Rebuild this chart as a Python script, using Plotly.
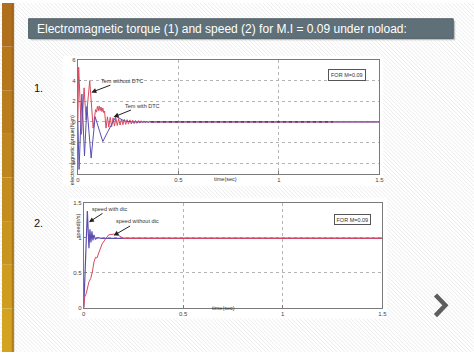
import plotly.graph_objects as go

W, H = 474, 355

# ---------------- data ----------------
# Chart 1: electromagnetic torque
tq_without_t = [0, 0.004, 0.018, 0.031, 0.041, 0.059, 0.076, 0.088, 0.093, 0.097, 0.102, 0.106,
                0.111, 0.115, 0.120, 0.124, 0.129, 0.133, 0.140,
                0.147, 0.154, 0.161, 0.168, 0.175, 0.182, 0.189, 0.196, 0.203, 0.210, 0.217,
                0.224, 0.231, 0.238, 0.245, 0.252, 0.259, 0.266, 0.273, 0.280, 0.287, 0.294,
                0.301, 0.308, 0.315, 0.322, 0.329, 0.336, 0.343, 0.350, 0.357, 0.364, 1.5]
tq_without_v = [0, 5.3, -1.2, 3.3, 0.2, 4.0, -0.6, 1.2, 0.95, 1.5, 1.1, 1.55,
                1.1, 1.45, 1.0, 1.35, 0.9, 1.05, -0.6,
                0.5, -0.5, 0.45, -0.45, 0.4, -0.4, 0.36, -0.35, 0.32, -0.3, 0.28,
                -0.27, 0.25, -0.24, 0.22, -0.21, 0.2, -0.19, 0.17, -0.16, 0.15, -0.14,
                0.13, -0.12, 0.11, -0.1, 0.1, -0.09, 0.08, -0.08, 0.06, 0.0, 0.0]
tq_with_t = [0, 0.006, 0.020, 0.033, 0.045, 0.066, 0.086, 0.124, 0.150, 0.190, 0.230, 0.270, 1.5]
tq_with_v = [0, -4.6, 2.7, -3.3, 1.5, -3.5, 0.5, -1.9, -0.9, 0.55, 0.1, 0.0, 0.0]
tq_ripple_t = [0.364, 1.27]
tq_ripple_v = [0.0, 0.0]

# Chart 2: speed
sp_without_t = [0, 0.004, 0.012, 0.020, 0.026, 0.035, 0.043, 0.051, 0.059, 0.066, 0.072, 0.081,
                0.092, 0.109, 0.125, 0.150, 0.175, 0.200, 0.250, 1.5]
sp_without_v = [0, 0.15, 0.2, 0.3, 0.37, 0.42, 0.51, 0.65, 0.72, 0.71, 0.76, 0.84,
                0.91, 0.98, 1.04, 1.05, 1.03, 0.99, 0.99, 0.99]
sp_with_t = [0, 0.008, 0.018, 0.026, 0.031, 0.036, 0.041, 0.046, 0.051, 0.058, 0.070, 0.090, 1.5]
sp_with_v = [0, 0.6, 1.38, 0.85, 1.12, 0.93, 1.09, 0.96, 1.04, 0.98, 1.0, 0.99, 0.99]
sp_ripple_t = [0.2, 1.5]
sp_ripple_v = [0.99, 0.99]

x_ticks = [0, 0.5, 1, 1.5]
x_ticktext = ["0", "0.5", "1", "1.5"]
tq_ticks = [-4, -2, 0, 2, 4, 6]
sp_ticks = [0, 0.5, 1, 1.5]
sp_ticktext = ["0", "0.5", "1", "1.5"]

title_text = "Electromagnetic torque (1) and speed (2) for M.I = 0.09 under noload:"

RED = "#d9485f"
BLUE = "#5a4fb0"


def px(x):
    return x / W


def py(y):
    return 1 - y / H


fig = go.Figure()

fig.add_trace(go.Scatter(x=tq_without_t, y=tq_without_v, mode="lines",
                         line=dict(color=RED, width=1), xaxis="x", yaxis="y"))
fig.add_trace(go.Scatter(x=tq_with_t, y=tq_with_v, mode="lines",
                         line=dict(color=BLUE, width=1), xaxis="x", yaxis="y"))
fig.add_trace(go.Scatter(x=tq_ripple_t, y=tq_ripple_v, mode="lines",
                         line=dict(color="#7a2040", width=1.2, dash="dot"), xaxis="x", yaxis="y"))

fig.add_trace(go.Scatter(x=sp_with_t, y=sp_with_v, mode="lines",
                         line=dict(color=BLUE, width=1.2), xaxis="x2", yaxis="y2"))
fig.add_trace(go.Scatter(x=sp_without_t, y=sp_without_v, mode="lines",
                         line=dict(color=RED, width=1), xaxis="x2", yaxis="y2"))
fig.add_trace(go.Scatter(x=sp_ripple_t, y=sp_ripple_v, mode="lines",
                         line=dict(color=RED, width=1.2, dash="dot"), xaxis="x2", yaxis="y2"))

axis_common = dict(showgrid=True, gridcolor="#b5b5b5", griddash="dot", gridwidth=1,
                   showline=True, mirror=True, linecolor="#7a7a7a", linewidth=1,
                   ticks="inside", ticklen=3, tickcolor="#7a7a7a", zeroline=False,
                   tickfont=dict(size=6, color="#444", family="Liberation Sans"))

shapes = []
# background hatch
step = 4
for k in range(-H, W + H, step):
    shapes.append(dict(type="line", xref="paper", yref="paper",
                       x0=px(k), y0=py(0), x1=px(k + H), y1=py(H),
                       line=dict(color="#ececec", width=1), layer="below"))
# left gold bar (gradient by bands)
bar_cols = ["#b06f1c", "#b5761c", "#ba7d1d", "#bf851e", "#c58d1f", "#ca951f", "#cf9c20", "#d3a221"]
nb = len(bar_cols)
for i, c in enumerate(bar_cols):
    shapes.append(dict(type="rect", xref="paper", yref="paper",
                       x0=px(0), x1=px(12), y0=py(H * (i + 1) / nb), y1=py(H * i / nb),
                       line=dict(width=0), fillcolor=c, layer="below"))
shapes.append(dict(type="rect", xref="paper", yref="paper", x0=px(10), x1=px(12.5),
                   y0=py(H), y1=py(0), line=dict(width=0), fillcolor="#8a5a18",
                   opacity=0.5, layer="below"))
# title banner shadow + banner
shapes.append(dict(type="rect", xref="paper", yref="paper", x0=px(29), x1=px(460),
                   y0=py(38), y1=py(18), line=dict(width=0), fillcolor="#9a9a9a",
                   opacity=0.6, layer="below"))
shapes.append(dict(type="rect", xref="paper", yref="paper", x0=px(27), x1=px(458),
                   y0=py(36), y1=py(16), line=dict(color="#56646b", width=1),
                   fillcolor="#607078", layer="below"))
# white figure backgrounds
shapes.append(dict(type="rect", xref="paper", yref="paper", x0=px(62), x1=px(387),
                   y0=py(186), y1=py(54), line=dict(width=0), fillcolor="white", layer="below"))
shapes.append(dict(type="rect", xref="paper", yref="paper", x0=px(68), x1=px(391),
                   y0=py(321), y1=py(198), line=dict(width=0), fillcolor="white", layer="below"))
# chevron
shapes.append(dict(type="path", xref="paper", yref="paper",
                   path=f"M {px(440)},{py(297)} L {px(450)},{py(307.5)} L {px(440)},{py(318)}",
                   line=dict(color="#5e5e5e", width=4.5)))

tiny = dict(size=5.5, color="#333", family="Liberation Sans")
annotations = [
    dict(text=title_text, x=px(33), y=py(26), xref="paper", yref="paper",
         xanchor="left", yanchor="middle", showarrow=False,
         font=dict(size=12, color="white", family="Liberation Sans")),
    dict(text="1.", x=px(30), y=py(86), xref="paper", yref="paper", xanchor="left",
         yanchor="middle", showarrow=False, font=dict(size=11, color="#111", family="Liberation Sans")),
    dict(text="2.", x=px(30), y=py(224), xref="paper", yref="paper", xanchor="left",
         yanchor="middle", showarrow=False, font=dict(size=11, color="#111", family="Liberation Sans")),
    dict(text="electromagnetic torque(N-m)", x=px(66), y=py(112), xref="paper", yref="paper",
         textangle=-90, showarrow=False, font=tiny),
    dict(text="speed(r/s)", x=px(73), y=py(241), xref="paper", yref="paper",
         textangle=-90, showarrow=False, font=tiny),
    dict(text="time(sec)", x=px(227), y=py(179), xref="paper", yref="paper",
         showarrow=False, font=tiny),
    dict(text="time(sec)", x=px(225), y=py(315), xref="paper", yref="paper",
         showarrow=False, font=tiny),
    dict(text="FOR M=0.09", x=1.34, y=4.57, xref="x", yref="y", showarrow=False,
         bordercolor="#555", borderwidth=1, borderpad=2, bgcolor="white", font=tiny),
    dict(text="FOR M=0.09", x=1.35, y=1.26, xref="x2", yref="y2", showarrow=False,
         bordercolor="#555", borderwidth=1, borderpad=1.5, bgcolor="white", font=tiny),
    dict(text="Tem without DTC", x=0.067, y=2.86, ax=0.22, ay=4.0, xref="x", yref="y",
         axref="x", ayref="y", showarrow=True, arrowhead=2, arrowsize=1, arrowwidth=1,
         arrowcolor="#222", font=tiny),
    dict(text="Tem with DTC", x=0.178, y=0.48, ax=0.32, ay=1.59, xref="x", yref="y",
         axref="x", ayref="y", showarrow=True, arrowhead=2, arrowsize=1, arrowwidth=1,
         arrowcolor="#222", font=tiny),
    dict(text="speed with dtc", x=0.026, y=1.22, ax=0.129, ay=1.41, xref="x2", yref="y2",
         axref="x2", ayref="y2", showarrow=True, arrowhead=2, arrowsize=1, arrowwidth=1,
         arrowcolor="#222", font=tiny),
    dict(text="speed without dtc", x=0.15, y=1.03, ax=0.272, ay=1.23, xref="x2", yref="y2",
         axref="x2", ayref="y2", showarrow=True, arrowhead=2, arrowsize=1, arrowwidth=1,
         arrowcolor="#222", font=tiny),
]

fig.update_layout(
    width=W, height=H, autosize=False,
    margin=dict(l=0, r=0, t=0, b=0),
    paper_bgcolor="white", plot_bgcolor="white",
    showlegend=False,
    xaxis=dict(domain=[px(77), px(383)], range=[0, 1.5], tickvals=x_ticks, ticktext=x_ticktext,
               anchor="y", **axis_common),
    yaxis=dict(domain=[py(173.5), py(58)], range=[-5, 6], tickvals=tq_ticks,
               anchor="x", **axis_common),
    xaxis2=dict(domain=[px(83), px(386)], range=[0, 1.5], tickvals=x_ticks, ticktext=x_ticktext,
                anchor="y2", **axis_common),
    yaxis2=dict(domain=[py(310), py(203)], range=[0, 1.5], tickvals=sp_ticks, ticktext=sp_ticktext,
                anchor="x2", **axis_common),
    shapes=shapes,
    annotations=annotations,
)

fig.write_html("out.html", config={"displayModeBar": False},
               post_script="document.body.style.margin='0';document.body.style.overflow='hidden';")
